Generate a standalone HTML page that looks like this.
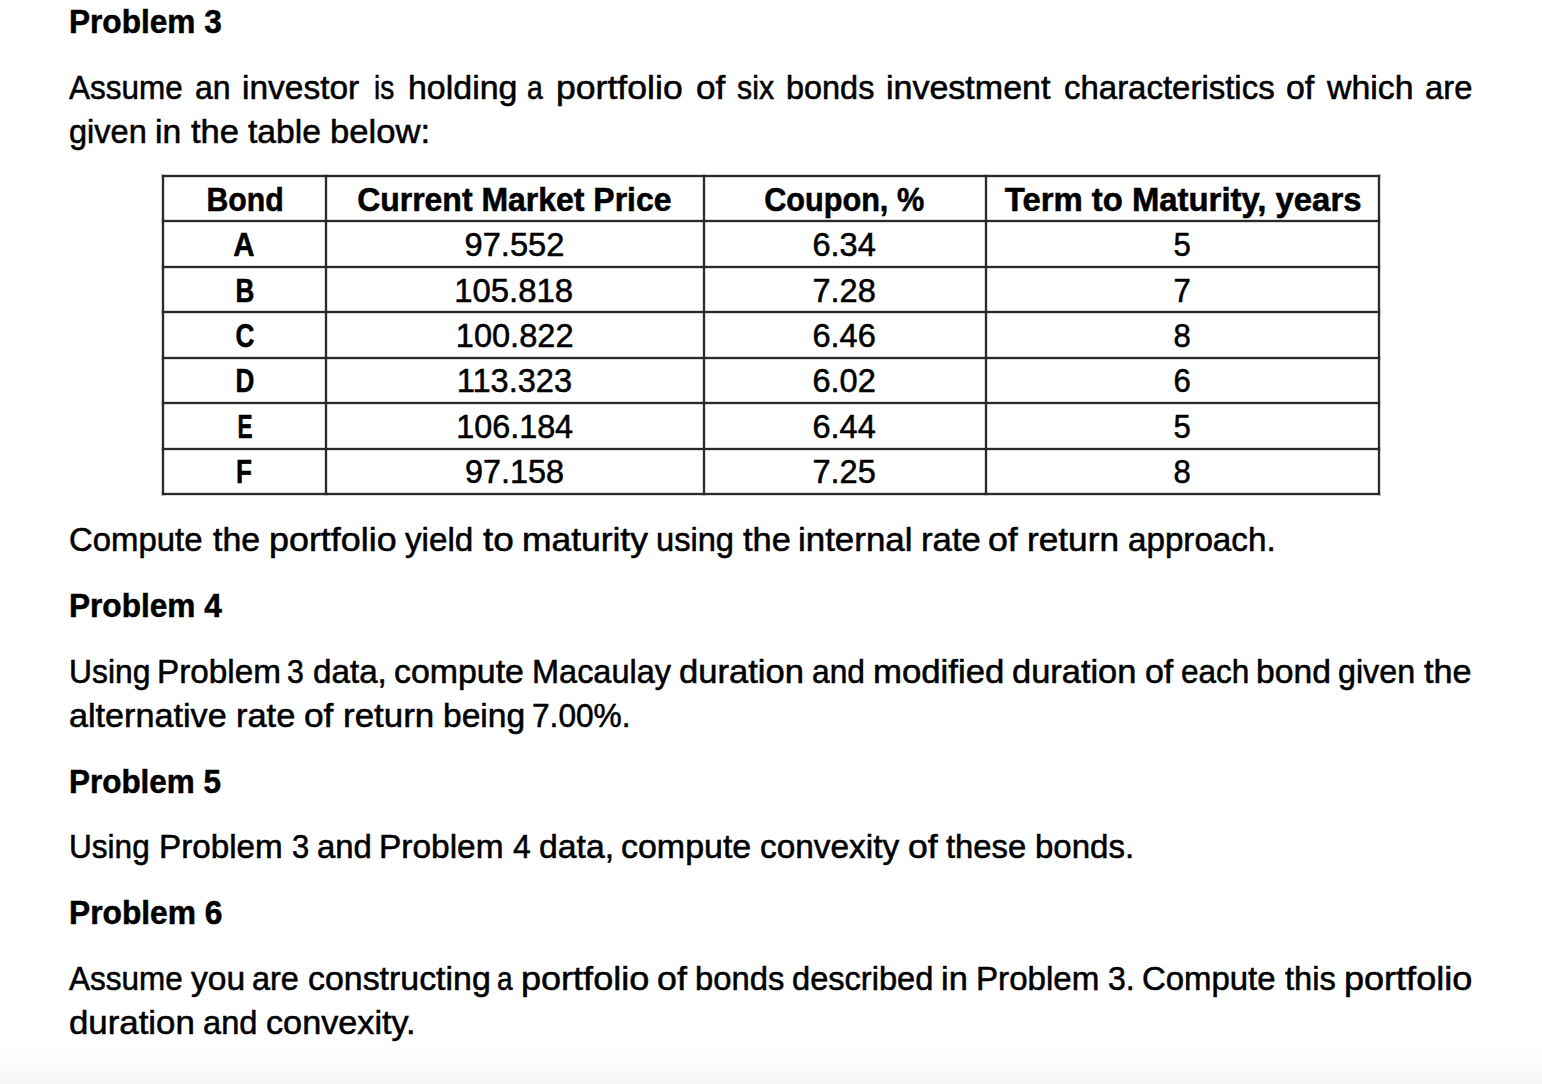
<!DOCTYPE html>
<html><head><meta charset="utf-8"><style>
html,body{margin:0;padding:0;background:#fff;}
body{width:1542px;height:1084px;position:relative;overflow:hidden;font-family:"Liberation Sans",sans-serif;color:#000;}
.t{position:absolute;white-space:nowrap;-webkit-text-stroke:0.55px #000;line-height:33px;font-size:33px;transform-origin:0 0;}
.b{font-weight:700;}
.j{text-align:justify;text-align-last:justify;white-space:normal;}
.hl{position:absolute;height:2px;background:#2a2a2a;box-shadow:0 0 0 1px rgba(0,0,0,0.14);}
.vl{position:absolute;width:2px;background:#2a2a2a;box-shadow:0 0 0 1px rgba(0,0,0,0.14);}
.grad{position:absolute;left:0;top:1044px;width:1542px;height:40px;background:linear-gradient(#fff,#fcfcfc 35%,#f5f5f5);}
#pg{position:absolute;left:0;top:0;width:1542px;height:1084px;}
</style></head><body><div id="pg">
<div class="t b" style="left:68.80px;top:4.70px;transform:scaleX(0.9571);">Problem 3</div>
<div class="t b" style="left:69.00px;top:589.00px;transform:scaleX(0.9572);">Problem 4</div>
<div class="t b" style="left:69.00px;top:764.90px;transform:scaleX(0.9526);">Problem 5</div>
<div class="t b" style="left:69.00px;top:895.90px;transform:scaleX(0.9612);">Problem 6</div>
<div class="t" style="left:69.30px;top:70.50px;transform:scaleX(0.9533);">Assume</div>
<div class="t" style="left:195.10px;top:70.50px;transform:scaleX(0.9710);">an</div>
<div class="t" style="left:241.90px;top:70.50px;transform:scaleX(1.0142);">investor</div>
<div class="t" style="left:374.34px;top:70.50px;transform:scaleX(0.8500);">is</div>
<div class="t" style="left:407.50px;top:70.50px;transform:scaleX(1.0284);">holding</div>
<div class="t" style="left:526.90px;top:70.50px;transform:scaleX(0.8602);">a</div>
<div class="t" style="left:556.30px;top:70.50px;transform:scaleX(1.0793);">portfolio</div>
<div class="t" style="left:695.70px;top:70.50px;transform:scaleX(1.0656);">of</div>
<div class="t" style="left:736.50px;top:70.50px;transform:scaleX(0.9189);">six</div>
<div class="t" style="left:785.50px;top:70.50px;transform:scaleX(0.9825);">bonds</div>
<div class="t" style="left:885.90px;top:70.50px;transform:scaleX(1.0303);">investment</div>
<div class="t" style="left:1063.70px;top:70.50px;transform:scaleX(0.9987);">characteristics</div>
<div class="t" style="left:1285.50px;top:70.50px;transform:scaleX(1.0273);">of</div>
<div class="t" style="left:1327.10px;top:70.50px;transform:scaleX(1.0248);">which</div>
<div class="t" style="left:1424.70px;top:70.50px;transform:scaleX(0.9929);">are</div>
<div class="t" style="left:68.70px;top:654.60px;transform:scaleX(0.9641);">Using</div>
<div class="t" style="left:156.70px;top:654.60px;transform:scaleX(1.0081);">Problem</div>
<div class="t" style="left:287.30px;top:654.60px;transform:scaleX(0.9140);">3</div>
<div class="t" style="left:312.50px;top:654.60px;transform:scaleX(1.0060);">data,</div>
<div class="t" style="left:393.50px;top:654.60px;transform:scaleX(1.0262);">compute</div>
<div class="t" style="left:531.70px;top:654.60px;transform:scaleX(0.9844);">Macaulay</div>
<div class="t" style="left:679.30px;top:654.60px;transform:scaleX(1.0474);">duration</div>
<div class="t" style="left:811.70px;top:654.60px;transform:scaleX(0.9610);">and</div>
<div class="t" style="left:873.10px;top:654.60px;transform:scaleX(1.0530);">modified</div>
<div class="t" style="left:1012.30px;top:654.60px;transform:scaleX(1.0430);">duration</div>
<div class="t" style="left:1144.50px;top:654.60px;transform:scaleX(1.0273);">of</div>
<div class="t" style="left:1180.50px;top:654.60px;transform:scaleX(0.9555);">each</div>
<div class="t" style="left:1256.30px;top:654.60px;transform:scaleX(1.0203);">bond</div>
<div class="t" style="left:1338.30px;top:654.60px;transform:scaleX(0.9767);">given</div>
<div class="t" style="left:1424.30px;top:654.60px;transform:scaleX(1.0367);">the</div>
<div class="t" style="left:68.50px;top:114.70px;transform:scaleX(0.9863);">given</div>
<div class="t" style="left:155.00px;top:114.70px;transform:scaleX(1.0222);">in</div>
<div class="t" style="left:191.00px;top:114.70px;transform:scaleX(1.0471);">the</div>
<div class="t" style="left:248.00px;top:114.70px;transform:scaleX(1.0203);">table</div>
<div class="t" style="left:330.00px;top:114.70px;transform:scaleX(1.0488);">below:</div>
<div class="t" style="left:69.00px;top:522.80px;transform:scaleX(0.9973);">Compute</div>
<div class="t" style="left:212.50px;top:522.80px;transform:scaleX(1.0264);">the</div>
<div class="t" style="left:268.50px;top:522.80px;transform:scaleX(1.0866);">portfolio</div>
<div class="t" style="left:405.00px;top:522.80px;transform:scaleX(1.0065);">yield</div>
<div class="t" style="left:483.04px;top:522.80px;transform:scaleX(1.1200);">to</div>
<div class="t" style="left:521.50px;top:522.80px;transform:scaleX(1.0722);">maturity</div>
<div class="t" style="left:655.50px;top:522.80px;transform:scaleX(0.9884);">using</div>
<div class="t" style="left:742.50px;top:522.80px;transform:scaleX(1.0443);">the</div>
<div class="t" style="left:798.00px;top:522.80px;transform:scaleX(1.0574);">internal</div>
<div class="t" style="left:920.50px;top:522.80px;transform:scaleX(1.0529);">rate</div>
<div class="t" style="left:988.00px;top:522.80px;transform:scaleX(1.0826);">of</div>
<div class="t" style="left:1027.00px;top:522.80px;transform:scaleX(1.0671);">return</div>
<div class="t" style="left:1128.00px;top:522.80px;transform:scaleX(1.0056);">approach.</div>
<div class="t" style="left:69.00px;top:698.80px;transform:scaleX(1.0359);">alternative</div>
<div class="t" style="left:235.50px;top:698.80px;transform:scaleX(1.0432);">rate</div>
<div class="t" style="left:304.00px;top:698.80px;transform:scaleX(1.0686);">of</div>
<div class="t" style="left:342.50px;top:698.80px;transform:scaleX(1.0584);">return</div>
<div class="t" style="left:443.00px;top:698.80px;transform:scaleX(1.0173);">being</div>
<div class="t" style="left:532.00px;top:698.80px;transform:scaleX(0.9589);">7.00%.</div>
<div class="t" style="left:69.00px;top:829.80px;transform:scaleX(0.9570);">Using</div>
<div class="t" style="left:158.50px;top:829.80px;transform:scaleX(1.0068);">Problem</div>
<div class="t" style="left:291.50px;top:829.80px;transform:scaleX(0.9344);">3</div>
<div class="t" style="left:317.00px;top:829.80px;transform:scaleX(0.9967);">and</div>
<div class="t" style="left:379.00px;top:829.80px;transform:scaleX(1.0135);">Problem</div>
<div class="t" style="left:513.00px;top:829.80px;transform:scaleX(0.9637);">4</div>
<div class="t" style="left:538.50px;top:829.80px;transform:scaleX(1.0224);">data,</div>
<div class="t" style="left:620.50px;top:829.80px;transform:scaleX(1.0289);">compute</div>
<div class="t" style="left:759.50px;top:829.80px;transform:scaleX(1.0115);">convexity</div>
<div class="t" style="left:908.00px;top:829.80px;transform:scaleX(1.0785);">of</div>
<div class="t" style="left:946.00px;top:829.80px;transform:scaleX(0.9943);">these</div>
<div class="t" style="left:1035.00px;top:829.80px;transform:scaleX(1.0010);">bonds.</div>
<div class="t" style="left:69.00px;top:1005.80px;transform:scaleX(1.0544);">duration</div>
<div class="t" style="left:202.50px;top:1005.80px;transform:scaleX(0.9876);">and</div>
<div class="t" style="left:265.50px;top:1005.80px;transform:scaleX(1.0368);">convexity.</div>
<div class="t" style="left:69.30px;top:961.60px;transform:scaleX(0.9533);">Assume</div>
<div class="t" style="left:190.70px;top:961.60px;transform:scaleX(1.0187);">you</div>
<div class="t" style="left:252.30px;top:961.60px;transform:scaleX(0.9820);">are</div>
<div class="t" style="left:307.70px;top:961.60px;transform:scaleX(1.0271);">constructing</div>
<div class="t" style="left:496.85px;top:961.60px;transform:scaleX(0.8500);">a</div>
<div class="t" style="left:520.70px;top:961.60px;transform:scaleX(1.0923);">portfolio</div>
<div class="t" style="left:656.50px;top:961.60px;transform:scaleX(1.0834);">of</div>
<div class="t" style="left:694.70px;top:961.60px;transform:scaleX(0.9933);">bonds</div>
<div class="t" style="left:791.70px;top:961.60px;transform:scaleX(0.9879);">described</div>
<div class="t" style="left:941.30px;top:961.60px;transform:scaleX(1.0430);">in</div>
<div class="t" style="left:976.30px;top:961.60px;transform:scaleX(1.0039);">Problem</div>
<div class="t" style="left:1107.50px;top:961.60px;transform:scaleX(0.9721);">3.</div>
<div class="t" style="left:1142.10px;top:961.60px;transform:scaleX(0.9966);">Compute</div>
<div class="t" style="left:1285.10px;top:961.60px;transform:scaleX(0.9905);">this</div>
<div class="t" style="left:1344.30px;top:961.60px;transform:scaleX(1.0924);">portfolio</div>
<div class="t b" style="left:-54.95px;top:182.70px;width:600px;text-align:center;font-size:33px;line-height:33px"><span style="display:inline-block;transform:scaleX(0.9164);transform-origin:50% 0">Bond</span></div>
<div class="t b" style="left:214.05px;top:182.70px;width:600px;text-align:center;font-size:33px;line-height:33px"><span style="display:inline-block;transform:scaleX(0.9684);transform-origin:50% 0">Current Market Price</span></div>
<div class="t b" style="left:544.10px;top:182.70px;width:600px;text-align:center;font-size:33px;line-height:33px"><span style="display:inline-block;transform:scaleX(0.9286);transform-origin:50% 0">Coupon, %</span></div>
<div class="t b" style="left:882.75px;top:182.70px;width:600px;text-align:center;font-size:33px;line-height:33px"><span style="display:inline-block;transform:scaleX(0.9958);transform-origin:50% 0">Term to Maturity, years</span></div>
<div class="t b" style="left:-56.05px;top:228.13px;width:600px;text-align:center;font-size:33px;line-height:33px"><span style="display:inline-block;transform:scaleX(0.8933);transform-origin:50% 0">A</span></div>
<div class="t" style="left:214.55px;top:228.13px;width:600px;text-align:center;font-size:33px;line-height:33px"><span style="display:inline-block;transform:scaleX(0.9897);transform-origin:50% 0">97.552</span></div>
<div class="t" style="left:544.55px;top:228.13px;width:600px;text-align:center;font-size:33px;line-height:33px"><span style="display:inline-block;transform:scaleX(0.9863);transform-origin:50% 0">6.34</span></div>
<div class="t" style="left:882.30px;top:228.13px;width:600px;text-align:center;font-size:33px;line-height:33px"><span style="display:inline-block;transform:scaleX(0.9417);transform-origin:50% 0">5</span></div>
<div class="t b" style="left:-55.50px;top:273.56px;width:600px;text-align:center;font-size:33px;line-height:33px"><span style="display:inline-block;transform:scaleX(0.7896);transform-origin:50% 0">B</span></div>
<div class="t" style="left:213.75px;top:273.56px;width:600px;text-align:center;font-size:33px;line-height:33px"><span style="display:inline-block;transform:scaleX(0.9960);transform-origin:50% 0">105.818</span></div>
<div class="t" style="left:544.55px;top:273.56px;width:600px;text-align:center;font-size:33px;line-height:33px"><span style="display:inline-block;transform:scaleX(0.9863);transform-origin:50% 0">7.28</span></div>
<div class="t" style="left:882.30px;top:273.56px;width:600px;text-align:center;font-size:33px;line-height:33px"><span style="display:inline-block;transform:scaleX(0.9417);transform-origin:50% 0">7</span></div>
<div class="t b" style="left:-55.50px;top:318.99px;width:600px;text-align:center;font-size:33px;line-height:33px"><span style="display:inline-block;transform:scaleX(0.7896);transform-origin:50% 0">C</span></div>
<div class="t" style="left:214.36px;top:318.99px;width:600px;text-align:center;font-size:33px;line-height:33px"><span style="display:inline-block;transform:scaleX(0.9868);transform-origin:50% 0">100.822</span></div>
<div class="t" style="left:544.55px;top:318.99px;width:600px;text-align:center;font-size:33px;line-height:33px"><span style="display:inline-block;transform:scaleX(0.9863);transform-origin:50% 0">6.46</span></div>
<div class="t" style="left:882.30px;top:318.99px;width:600px;text-align:center;font-size:33px;line-height:33px"><span style="display:inline-block;transform:scaleX(0.9417);transform-origin:50% 0">8</span></div>
<div class="t b" style="left:-55.50px;top:364.41px;width:600px;text-align:center;font-size:33px;line-height:33px"><span style="display:inline-block;transform:scaleX(0.7896);transform-origin:50% 0">D</span></div>
<div class="t" style="left:214.36px;top:364.41px;width:600px;text-align:center;font-size:33px;line-height:33px"><span style="display:inline-block;transform:scaleX(0.9868);transform-origin:50% 0">113.323</span></div>
<div class="t" style="left:544.55px;top:364.41px;width:600px;text-align:center;font-size:33px;line-height:33px"><span style="display:inline-block;transform:scaleX(0.9863);transform-origin:50% 0">6.02</span></div>
<div class="t" style="left:882.30px;top:364.41px;width:600px;text-align:center;font-size:33px;line-height:33px"><span style="display:inline-block;transform:scaleX(0.9417);transform-origin:50% 0">6</span></div>
<div class="t b" style="left:-55.00px;top:409.84px;width:600px;text-align:center;font-size:33px;line-height:33px"><span style="display:inline-block;transform:scaleX(0.6848);transform-origin:50% 0">E</span></div>
<div class="t" style="left:214.80px;top:409.84px;width:600px;text-align:center;font-size:33px;line-height:33px"><span style="display:inline-block;transform:scaleX(0.9802);transform-origin:50% 0">106.184</span></div>
<div class="t" style="left:544.55px;top:409.84px;width:600px;text-align:center;font-size:33px;line-height:33px"><span style="display:inline-block;transform:scaleX(0.9863);transform-origin:50% 0">6.44</span></div>
<div class="t" style="left:882.30px;top:409.84px;width:600px;text-align:center;font-size:33px;line-height:33px"><span style="display:inline-block;transform:scaleX(0.9417);transform-origin:50% 0">5</span></div>
<div class="t b" style="left:-55.45px;top:455.27px;width:600px;text-align:center;font-size:33px;line-height:33px"><span style="display:inline-block;transform:scaleX(0.7907);transform-origin:50% 0">F</span></div>
<div class="t" style="left:214.35px;top:455.27px;width:600px;text-align:center;font-size:33px;line-height:33px"><span style="display:inline-block;transform:scaleX(0.9814);transform-origin:50% 0">97.158</span></div>
<div class="t" style="left:544.55px;top:455.27px;width:600px;text-align:center;font-size:33px;line-height:33px"><span style="display:inline-block;transform:scaleX(0.9863);transform-origin:50% 0">7.25</span></div>
<div class="t" style="left:882.30px;top:455.27px;width:600px;text-align:center;font-size:33px;line-height:33px"><span style="display:inline-block;transform:scaleX(0.9417);transform-origin:50% 0">8</span></div>
<div class="hl" style="left:162px;top:175px;width:1218px"></div>
<div class="hl" style="left:162px;top:220px;width:1218px"></div>
<div class="hl" style="left:162px;top:266px;width:1218px"></div>
<div class="hl" style="left:162px;top:311px;width:1218px"></div>
<div class="hl" style="left:162px;top:357px;width:1218px"></div>
<div class="hl" style="left:162px;top:402px;width:1218px"></div>
<div class="hl" style="left:162px;top:448px;width:1218px"></div>
<div class="hl" style="left:162px;top:493px;width:1218px"></div>
<div class="vl" style="left:162px;top:175px;height:320px"></div>
<div class="vl" style="left:325px;top:175px;height:320px"></div>
<div class="vl" style="left:703px;top:175px;height:320px"></div>
<div class="vl" style="left:985px;top:175px;height:320px"></div>
<div class="vl" style="left:1378px;top:175px;height:320px"></div>
<div class="grad"></div>
</div></body></html>
